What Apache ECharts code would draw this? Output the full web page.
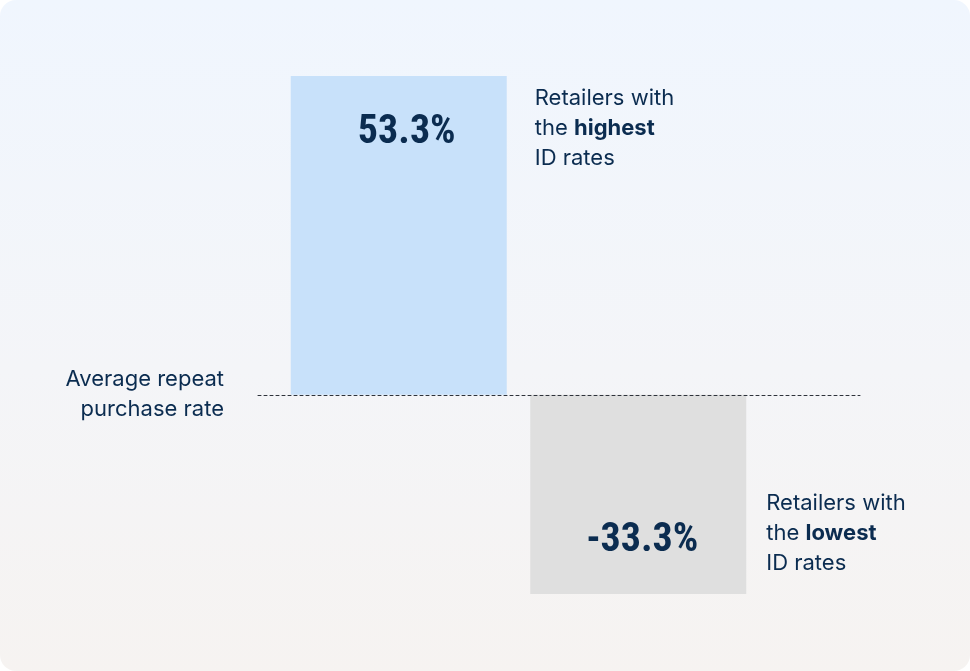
<!DOCTYPE html>
<html>
<head>
<meta charset="UTF-8">
<script src="https://cdn.jsdelivr.net/npm/echarts@6/dist/echarts.min.js"></script>
<style type="text/css">
html,body{margin:0;padding:0;background:#fff;}
#chart{width:970px;height:671px;border-radius:16px;overflow:hidden;
	background:linear-gradient(180deg,#f0f6fe 0%,#f4f5f8 55%,#f6f3f1 100%);}
</style>
</head>
<body>
<div id="chart"></div>
<script type="text/javascript">
var categories=["highest","lowest"];//两组零售商
var values=[53.3,-33.3];//相对平均复购率的差值 (%)
var barColors=["#c8e1fa","#dfdfdf"];
var descWords=["highest","lowest"];
var baselineLabel="Average repeat\npurchase rate";

var ink="#0b2c50";
var valueFont="'Liberation Sans Narrow','Roboto Condensed',Roboto,sans-serif";

var dom=document.getElementById("chart");
var myChart=echarts.init(dom);

var valueData=values.map(function(v,i){
	return {
		value:v,
		itemStyle:{color:barColors[i]},
		label:v>=0?{position:"insideTop",distance:35,offset:[8,0]}:{position:"insideBottom",distance:31,offset:[4,0]}
	};
});
var descData=values.map(function(v,i){
	return {
		value:v,
		label:{position:v>=0?[244,7]:[236,94]}
	};
});

var option={
	animation:false,
	grid:[
		{left:279,right:212,top:36,bottom:37},
		{left:258,right:110,top:36,bottom:37}
	],
	xAxis:[
		{type:"category",data:categories,gridIndex:0,show:false},
		{type:"value",gridIndex:1,min:0,max:1,z:5,
			axisLine:{show:true,onZero:true,lineStyle:{color:"#2e333b",width:1,type:[3,3]}},
			axisTick:{show:false},axisLabel:{show:false},splitLine:{show:false}}
	],
	yAxis:[
		{type:"value",gridIndex:0,min:-40,max:60,interval:20,show:false},
		{type:"value",gridIndex:1,min:-40,max:60,interval:20,
			axisLine:{show:false},axisTick:{show:false},splitLine:{show:false},
			axisLabel:{margin:34,align:"right",
				formatter:function(v){return v===0?baselineLabel:"";},
				fontFamily:"Inter",fontSize:22,lineHeight:30,color:ink,padding:[0,0,6,0]}}
	],
	series:[
		{
			type:"bar",xAxisIndex:0,yAxisIndex:0,barWidth:216,
			data:valueData,
			label:{show:true,formatter:function(p){return p.value+"%";},
				fontFamily:valueFont,fontSize:40,fontWeight:"bold",color:ink,lineHeight:44}
		},
		{
			type:"bar",xAxisIndex:0,yAxisIndex:0,barWidth:216,barGap:"-100%",
			itemStyle:{color:"transparent"},silent:true,
			data:descData,
			label:{show:true,align:"left",verticalAlign:"top",
				formatter:function(p){return "{a|Retailers with}\n{a|the }{b|"+descWords[p.dataIndex]+"}\n{a|ID rates}";},
				rich:{
					a:{fontFamily:"Inter",fontSize:22,lineHeight:30,color:ink},
					b:{fontFamily:"Inter",fontSize:22,lineHeight:30,color:ink,fontWeight:"bold"}
				}}
		}
	]
};
myChart.setOption(option);
</script>
</body>
</html>
